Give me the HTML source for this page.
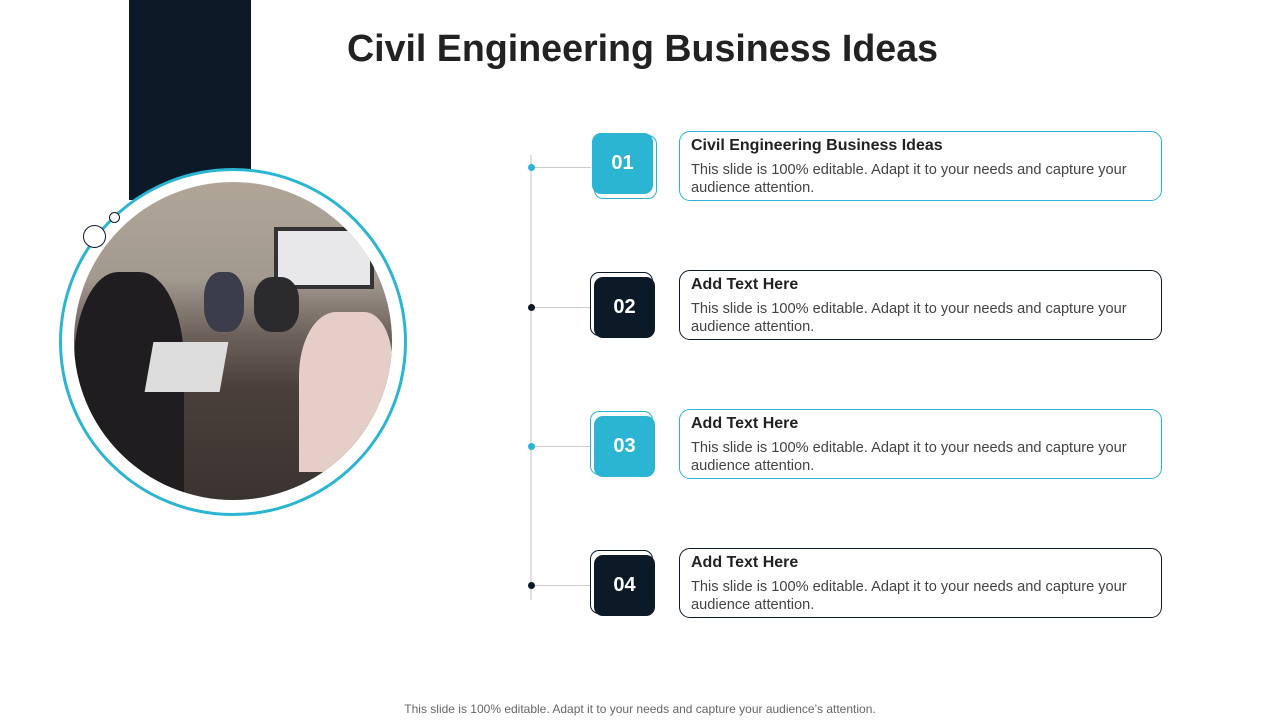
<!DOCTYPE html>
<html><head><style>
*{margin:0;padding:0;box-sizing:border-box}
body{width:1280px;height:720px;background:#fff;position:relative;overflow:hidden;font-family:"Liberation Sans",Arial,sans-serif}
.a{position:absolute}
h1{position:absolute;left:347px;top:27px;font-size:37.6px;font-weight:bold;color:#222}
.card{position:absolute;left:679px;width:483px;height:70px;border-radius:11px;border:1px solid #0b1a26;background:#fff}
.card.c{border-color:#2bb5d3}
.card b{position:absolute;left:11px;top:5px;font-size:16px;color:#222}
.card p{position:absolute;left:11px;top:29px;font-size:14.6px;line-height:18px;color:#444;width:465px}
.num{position:absolute;width:61px;height:61px;border-radius:9px;color:#fff;font-size:20px;font-weight:bold;text-align:center;line-height:61px}
.ol{position:absolute;width:63px;height:64px;border-radius:9px;border:1px solid #0b1a26}
.dot{position:absolute;left:528px;width:7px;height:7px;border-radius:50%}
.hl{position:absolute;left:531px;width:60px;height:1px;background:#ccc}
</style></head><body>
<div class="a" style="left:129px;top:0;width:122px;height:200px;background:#0b1a26"></div>
<div class="a" style="left:59px;top:168px;width:348px;height:348px;border-radius:50%;border:3px solid #2bb5d3;background:#fff"></div>
<div class="a" style="left:74px;top:182px;width:318px;height:318px;border-radius:50%;overflow:hidden;background:linear-gradient(180deg,#b0a597 0%,#a39a90 30%,#6d625b 48%,#4a3f3a 65%,#3a3431 100%)">
<div class="a" style="left:200px;top:45px;width:100px;height:62px;background:#e8e8ea;border:4px solid #333"></div>
<div class="a" style="left:0;top:90px;width:110px;height:228px;background:#1f1d1f;border-radius:40% 40% 0 0"></div>
<div class="a" style="left:225px;top:130px;width:93px;height:160px;background:#e5cdc8;border-radius:40% 30% 0 0"></div>
<div class="a" style="left:75px;top:160px;width:75px;height:50px;background:#ddd;transform:skew(-10deg)"></div>
<div class="a" style="left:130px;top:90px;width:40px;height:60px;background:#3b3d4a;border-radius:40%"></div>
<div class="a" style="left:180px;top:95px;width:45px;height:55px;background:#2b2a2d;border-radius:40%"></div>
</div>
<div class="a" style="left:83px;top:225px;width:23px;height:23px;border-radius:50%;border:1.5px solid #0b1a26;background:#fff"></div>
<div class="a" style="left:109px;top:212px;width:11px;height:11px;border-radius:50%;border:1.5px solid #0b1a26;background:#fff"></div>
<h1>Civil Engineering Business Ideas</h1>
<div class="a" style="left:530px;top:155px;width:2px;height:445px;background:#e0e0e0"></div>

<div class="hl" style="top:167px"></div><div class="dot" style="top:164px;background:#2bb5d3"></div>
<div class="ol" style="left:594px;top:135px;border-color:#2bb5d3"></div>
<div class="num" style="left:592px;top:133px;background:#2bb5d3">01</div>
<div class="card c" style="top:131px"><b>Civil Engineering Business Ideas</b><p>This slide is 100% editable. Adapt it to your needs and capture your audience attention.</p></div>

<div class="hl" style="top:307px"></div><div class="dot" style="top:304px;background:#0b1a26"></div>
<div class="ol" style="left:590px;top:272px"></div>
<div class="num" style="left:594px;top:277px;background:#0b1a26">02</div>
<div class="card" style="top:270px"><b>Add Text Here</b><p>This slide is 100% editable. Adapt it to your needs and capture your audience attention.</p></div>

<div class="hl" style="top:446px"></div><div class="dot" style="top:443px;background:#2bb5d3"></div>
<div class="ol" style="left:590px;top:411px;border-color:#2bb5d3"></div>
<div class="num" style="left:594px;top:416px;background:#2bb5d3">03</div>
<div class="card c" style="top:409px"><b>Add Text Here</b><p>This slide is 100% editable. Adapt it to your needs and capture your audience attention.</p></div>

<div class="hl" style="top:585px"></div><div class="dot" style="top:582px;background:#0b1a26"></div>
<div class="ol" style="left:590px;top:550px"></div>
<div class="num" style="left:594px;top:555px;background:#0b1a26">04</div>
<div class="card" style="top:548px"><b>Add Text Here</b><p>This slide is 100% editable. Adapt it to your needs and capture your audience attention.</p></div>

<div class="a" style="left:0;width:1280px;top:702px;text-align:center;font-size:12px;color:#666">This slide is 100% editable. Adapt it to your needs and capture your audience’s attention.</div>
</body></html>
